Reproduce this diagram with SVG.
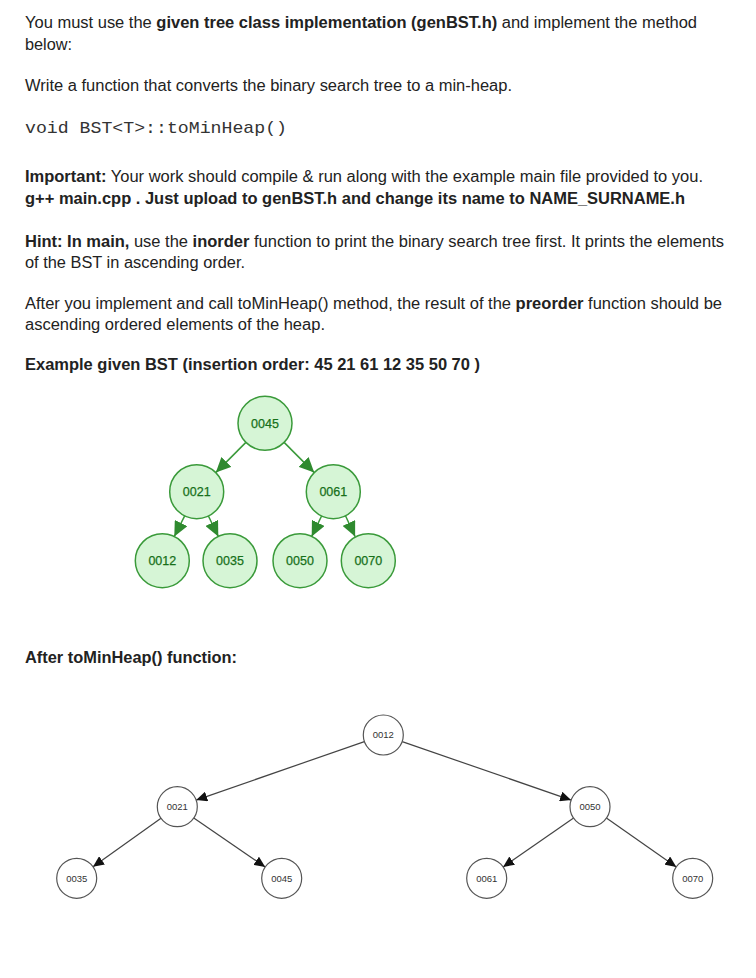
<svg xmlns="http://www.w3.org/2000/svg" width="756" height="978" viewBox="0 0 756 978">
<defs>
<style>
.t{font-family:"Liberation Sans",Arial,sans-serif;font-size:16px;fill:#222}
.b{font-weight:bold}
.code{font-family:"Liberation Mono","Courier New",monospace;font-size:17px;fill:#333}
.gn circle{fill:#d6f5d6;stroke:#3a9a3a;stroke-width:1.5}
.gn text{font-family:"Liberation Sans",Arial,sans-serif;font-size:12.5px;fill:#17701a;text-anchor:middle;stroke:#17701a;stroke-width:0.25}
.bn circle{fill:#fff;stroke:#555;stroke-width:1.2}
.bn text{font-family:"Liberation Sans",Arial,sans-serif;font-size:9.5px;fill:#333;text-anchor:middle}
.ge{stroke:#3a9a3a;stroke-width:1.5;fill:none;marker-end:url(#ga)}
.be{stroke:#444;stroke-width:1.2;fill:none;marker-end:url(#ba)}
</style>
<marker id="ga" markerUnits="userSpaceOnUse" markerWidth="16" markerHeight="14" viewBox="0 0 16 14" refX="15" refY="7" orient="auto">
<path d="M0,0 L15,7 L0,14 Z" fill="#2f8a2f"/>
</marker>
<marker id="ba" markerUnits="userSpaceOnUse" markerWidth="12" markerHeight="10" viewBox="0 0 12 10" refX="11" refY="5" orient="auto">
<path d="M0,0 L11,5 L0,10 Z" fill="#111"/>
</marker>
</defs>
<rect width="756" height="978" fill="#fff"/>
<g id="text">
<text class="t" x="25" y="28" textLength="672" lengthAdjust="spacingAndGlyphs">You must use the <tspan class="b">given tree class implementation (genBST.h)</tspan> and implement the method</text>
<text class="t" x="25" y="50" textLength="47" lengthAdjust="spacingAndGlyphs">below:</text>
<text class="t" x="25" y="90.5" textLength="487" lengthAdjust="spacingAndGlyphs">Write a function that converts the binary search tree to a min-heap.</text>
<text class="code" x="25" y="133" textLength="262" lengthAdjust="spacingAndGlyphs">void BST&lt;T&gt;::toMinHeap()</text>
<text class="t" x="25" y="181.5" textLength="678" lengthAdjust="spacingAndGlyphs"><tspan class="b">Important:</tspan> Your work should compile &amp; run along with the example main file provided to you.</text>
<text class="t b" x="25" y="203.5" textLength="660" lengthAdjust="spacingAndGlyphs">g++ main.cpp . Just upload to genBST.h and change its name to NAME_SURNAME.h</text>
<text class="t" x="25" y="246.5" textLength="699" lengthAdjust="spacingAndGlyphs"><tspan class="b">Hint: In main,</tspan> use the <tspan class="b">inorder</tspan> function to print the binary search tree first. It prints the elements</text>
<text class="t" x="25" y="268" textLength="220" lengthAdjust="spacingAndGlyphs">of the BST in ascending order.</text>
<text class="t" x="25" y="308.5" textLength="697" lengthAdjust="spacingAndGlyphs">After you implement and call toMinHeap() method, the result of the <tspan class="b">preorder</tspan> function should be</text>
<text class="t" x="25" y="329.5" textLength="300" lengthAdjust="spacingAndGlyphs">ascending ordered elements of the heap.</text>
<text class="t b" x="25" y="370" textLength="455" lengthAdjust="spacingAndGlyphs">Example given BST (insertion order: 45 21 61 12 35 50 70 )</text>
<text class="t b" x="25" y="663" textLength="212" lengthAdjust="spacingAndGlyphs">After toMinHeap() function:</text>
</g>
<g id="connectors">
<line class="ge" x1="245.9" y1="442.4" x2="215.8" y2="472.6"/>
<line class="ge" x1="284.1" y1="442.4" x2="314.2" y2="472.6"/>
<line class="ge" x1="184.7" y1="515.9" x2="174.3" y2="536.5"/>
<line class="ge" x1="208.4" y1="516" x2="218.3" y2="536.4"/>
<line class="ge" x1="321.6" y1="516" x2="311.7" y2="536.4"/>
<line class="ge" x1="345.5" y1="515.8" x2="355.1" y2="536.6"/>
<line class="be" x1="364.4" y1="741.6" x2="196.2" y2="800.1"/>
<line class="be" x1="402.2" y1="741.6" x2="571.1" y2="800.1"/>
<line class="be" x1="161" y1="818.3" x2="93" y2="866.7"/>
<line class="be" x1="193.8" y1="818" x2="265.2" y2="867"/>
<line class="be" x1="573.6" y1="818.1" x2="503.1" y2="866.9"/>
<line class="be" x1="606.4" y1="818.1" x2="676.3" y2="866.9"/>
</g>
<g id="g0045" class="gn"><circle cx="265" cy="423.3" r="27"/><text x="265" y="427.8">0045</text></g>
<g id="g0021" class="gn"><circle cx="196.7" cy="491.7" r="27"/><text x="196.7" y="496.2">0021</text></g>
<g id="g0061" class="gn"><circle cx="333.3" cy="491.7" r="27"/><text x="333.3" y="496.2">0061</text></g>
<g id="g0012" class="gn"><circle cx="162.3" cy="560.7" r="27"/><text x="162.3" y="565.2">0012</text></g>
<g id="g0035" class="gn"><circle cx="230" cy="560.7" r="27"/><text x="230" y="565.2">0035</text></g>
<g id="g0050" class="gn"><circle cx="300" cy="560.7" r="27"/><text x="300" y="565.2">0050</text></g>
<g id="g0070" class="gn"><circle cx="368.3" cy="560.7" r="27"/><text x="368.3" y="565.2">0070</text></g>
<g id="h0012" class="bn"><circle cx="383.3" cy="735" r="20"/><text x="383.3" y="738.4">0012</text></g>
<g id="h0021" class="bn"><circle cx="177.3" cy="806.7" r="20"/><text x="177.3" y="810.1">0021</text></g>
<g id="h0050" class="bn"><circle cx="590" cy="806.7" r="20"/><text x="590" y="810.1">0050</text></g>
<g id="h0035" class="bn"><circle cx="76.7" cy="878.3" r="20"/><text x="76.7" y="881.7">0035</text></g>
<g id="h0045" class="bn"><circle cx="281.7" cy="878.3" r="20"/><text x="281.7" y="881.7">0045</text></g>
<g id="h0061" class="bn"><circle cx="486.7" cy="878.3" r="20"/><text x="486.7" y="881.7">0061</text></g>
<g id="h0070" class="bn"><circle cx="692.7" cy="878.3" r="20"/><text x="692.7" y="881.7">0070</text></g>
</svg>
